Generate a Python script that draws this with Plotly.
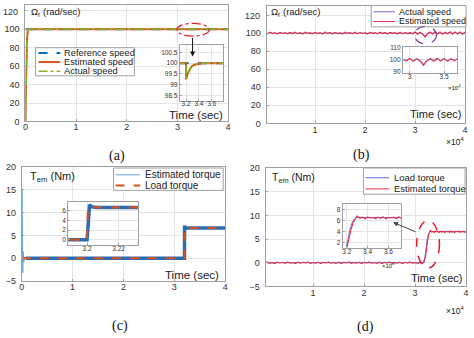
import plotly.graph_objects as go

W, H = 474, 338
def px(x): return x / W
def py(y): return 1 - y / H

# ---------------- data ----------------
# (a) speed response, time in seconds
time_ref_a = [0, 4.0]
speed_ref_a = [100, 100]
time_a = [0, 0.01, 0.03, 0.05, 3.2, 3.2001, 3.22, 3.25, 3.28, 3.32, 3.38, 3.45, 4.0]
speed_est_a = [0, 25, 88, 100, 100, 99.25, 99.48, 99.68, 99.82, 99.92, 99.97, 100, 100]
speed_act_a = [0, 30, 92, 100, 100, 99.32, 99.52, 99.72, 99.85, 99.94, 99.98, 100, 100]
speed_ticks = [0, 20, 40, 60, 80, 100, 120]

# (b) experimental speed, samples
samples_b = list(range(0, 40001, 500))
speed_est_b = [100.6, 99.2, 100.9, 99.5, 100.3, 98.9, 100.8, 99.6, 100.2, 99.1,
               100.7, 99.4, 101.0, 99.3, 100.4, 99.0, 100.9, 99.7, 100.1, 99.2,
               100.8, 99.5, 100.3, 98.8, 101.1, 99.6, 100.5, 99.1, 100.7, 99.4,
               100.2, 99.0, 100.9, 99.6, 100.4, 99.2, 101.0, 99.3, 100.6, 99.5,
               100.1, 98.9, 100.8, 99.7, 100.3, 99.2, 100.9, 99.4, 100.5, 99.1,
               100.7, 99.6, 100.2, 99.0, 101.0, 99.3, 100.6, 99.5, 100.4, 99.2,
               101.2, 98.8, 101.0, 99.1, 95.5, 99.2, 101.1, 98.9, 101.3, 99.0,
               101.2, 98.8, 101.0, 99.2, 101.3, 98.9, 101.1, 99.0, 101.2, 98.8, 100.9]
speed_act_b = [100.3, 99.6, 100.5, 99.7, 100.2, 99.5, 100.4, 99.8, 100.1, 99.6,
               100.4, 99.7, 100.5, 99.6, 100.2, 99.5, 100.4, 99.8, 100.1, 99.6,
               100.5, 99.7, 100.2, 99.4, 100.6, 99.8, 100.3, 99.5, 100.4, 99.7,
               100.1, 99.5, 100.5, 99.8, 100.2, 99.6, 100.5, 99.6, 100.3, 99.7,
               100.1, 99.5, 100.4, 99.8, 100.2, 99.6, 100.5, 99.7, 100.3, 99.5,
               100.4, 99.8, 100.1, 99.5, 100.5, 99.6, 100.3, 99.7, 100.2, 99.6,
               100.6, 99.4, 100.5, 99.5, 96.5, 99.6, 100.6, 99.4, 100.7, 99.5,
               100.6, 99.4, 100.5, 99.6, 100.7, 99.4, 100.6, 99.5, 100.6, 99.4, 100.5]

# (c) torque simulation, time in seconds
time_c = [0, 0.005, 0.012, 0.02, 0.03, 0.04, 0.06, 0.08, 3.2, 3.2008, 3.2015, 3.203, 3.206, 4.0]
torque_est_c = [0, 15.2, 8, -3.2, 1.5, -0.8, 0.3, 0, 0, 3.5, 7.2, 6.8, 6.65, 6.65]
time_load_c = [0, 3.1998, 3.2005, 4.0]
torque_load_c = [0, 0, 6.65, 6.65]

# (d) experimental torque, samples
samples_d = (list(range(0, 32000, 500)) + [32000, 32200, 32400, 32600, 32800]
             + list(range(33000, 40001, 250)))
torque_est_d = [0.1, -0.1, 0.2, -0.15, 0.05, -0.2, 0.15, -0.05, 0.1, -0.15,
                0.2, -0.1, 0.05, -0.2, 0.15, -0.1, 0.1, -0.05, 0.2, -0.15,
                0.05, -0.1, 0.15, -0.2, 0.1, -0.05, 0.2, -0.1, 0.05, -0.15,
                0.15, -0.2, 0.1, -0.05, 0.2, -0.15, 0.05, -0.1, 0.15, -0.2,
                0.1, -0.05, 0.2, -0.1, 0.05, -0.15, 0.15, -0.2, 0.1, -0.05,
                0.2, -0.15, 0.05, -0.1, 0.15, -0.2, 0.1, -0.05, 0.2, -0.1,
                0.05, -0.15, 0.15, -0.1,
                1.0, 2.9, 4.4, 5.6, 6.4,
                6.9, 6.45, 6.65, 6.35, 6.7, 6.5, 6.6, 6.4, 6.65, 6.45,
                6.7, 6.35, 6.6, 6.5, 6.65, 6.4, 6.7, 6.45, 6.6, 6.35,
                6.65, 6.5, 6.7, 6.4, 6.6, 6.45, 6.65, 6.4, 6.55]
samples_load_d = [0, 31800, 31950, 32150, 32350, 32550, 32750, 32950, 40000]
torque_load_d = [0, 0, 1.2, 3.3, 4.8, 5.8, 6.4, 6.6, 6.6]

# ---------------- colours ----------------
C_REF = '#0072BD'
C_EST = '#D95319'
C_ACT = '#8AB22E'
C_BLUE_B = '#7070E0'
C_RED_B = '#E0304A'
C_TE_THIN = '#63A8E0'
C_TE_THICK = '#2B6CB0'

fig = go.Figure()

def line(x, y, xa, ya, color, width=1, dash='solid'):
    fig.add_trace(go.Scatter(x=x, y=y, mode='lines', xaxis=xa, yaxis=ya,
                             line=dict(color=color, width=width, dash=dash),
                             showlegend=False, hoverinfo='skip'))

# (a) main + inset
for xa, ya in [('x', 'y'), ('x2', 'y2')]:
    line(time_ref_a, speed_ref_a, xa, ya, C_REF, 2, 'dash')
    line(time_a, speed_est_a, xa, ya, C_EST, 2)
    line(time_a, speed_act_a, xa, ya, C_ACT, 1.6, 'dashdot')

# (b) main + inset
line(samples_b, speed_act_b, 'x3', 'y3', C_BLUE_B, 1)
line(samples_b, speed_est_b, 'x3', 'y3', C_RED_B, 1.2)
line(samples_b[57:], speed_act_b[57:], 'x4', 'y4', C_BLUE_B, 1)
line(samples_b[57:], speed_est_b[57:], 'x4', 'y4', C_RED_B, 1.1)

# (c) main + inset
for xa, ya in [('x5', 'y5'), ('x6', 'y6')]:
    line(time_c[:8], torque_est_c[:8], xa, ya, C_TE_THIN, 1)
    line(time_c[7:], torque_est_c[7:], xa, ya, C_TE_THICK, 3.5)
    line(time_load_c, torque_load_c, xa, ya, C_EST, 2, 'dash')

# (d) main + inset
for xa, ya in [('x7', 'y7'), ('x8', 'y8')]:
    line(samples_load_d, torque_load_d, xa, ya, C_BLUE_B, 1)
    line(samples_d, torque_est_d, xa, ya, C_RED_B, 1.1)

FONT = 'Liberation Sans'
def axstyle(fs, **kw):
    d = dict(showline=True, linecolor='#a0a0a0', linewidth=1, mirror=True,
             showgrid=True, gridcolor='#e4e4e4', gridwidth=1, zeroline=False,
             ticks='inside', ticklen=2, tickcolor='#a0a0a0',
             ticklabeloverflow='allow',
             tickfont=dict(family=FONT, size=fs, color='#333333'))
    d.update(kw)
    return d

# the top tick label of the speed axes is written as a separate text
speed_ticktext = [str(v) for v in speed_ticks[:-1]] + ['']

layout = dict(
    width=W, height=H, margin=dict(l=0, r=0, t=0, b=0),
    paper_bgcolor='white', plot_bgcolor='white', showlegend=False,
    # (a)
    xaxis=axstyle(9, domain=[px(22.7), px(228)], range=[0, 4], dtick=1, anchor='y', ticklabelstandoff=-3),
    yaxis=axstyle(9, domain=[py(120), py(0.5)], range=[0, 125.8], tickvals=speed_ticks, ticktext=speed_ticktext, anchor='x', ticklabelstandoff=3),
    xaxis2=axstyle(6.5, domain=[px(179), px(223)], range=[3.1, 3.78], tickvals=[3.2, 3.4, 3.6], anchor='y2', ticklabelstandoff=-4),
    yaxis2=axstyle(6.5, domain=[py(99), py(41)], range=[98.23, 100.86], tickvals=[98.5, 99, 99.5, 100, 100.5], anchor='x2'),
    # (b)
    xaxis3=axstyle(9, domain=[px(267), px(468)], range=[330, 40000], tickvals=[10000, 20000, 30000, 40000], ticktext=['1', '2', '3', '4'], anchor='y3', ticklabelstandoff=-2),
    yaxis3=axstyle(9, domain=[py(122), py(1)], range=[0, 130], tickvals=speed_ticks, ticktext=speed_ticktext, anchor='x3', ticklabelstandoff=3),
    xaxis4=axstyle(6.5, domain=[px(405), px(460)], range=[29000, 36900], tickvals=[30000, 35000], ticktext=['3', '3.5'], anchor='y4', ticklabelstandoff=-3),
    yaxis4=axstyle(6.5, domain=[py(70), py(43)], range=[89.4, 110.6], tickvals=[90, 100, 110], anchor='x4'),
    # (c)
    xaxis5=axstyle(9, domain=[px(19), px(225)], range=[0, 4], dtick=1, anchor='y5', ticklabelstandoff=-3),
    yaxis5=axstyle(9, domain=[py(284.5), py(167)], range=[-5, 20], dtick=5, anchor='x5', ticklabelstandoff=3),
    xaxis6=axstyle(6.5, domain=[px(66), px(137)], range=[3.188, 3.2325], tickvals=[3.2, 3.22], anchor='y6', ticklabelstandoff=-2),
    yaxis6=axstyle(6.5, domain=[py(247), py(203)], range=[-1, 7.8], tickvals=[0, 2, 4, 6], anchor='x6'),
    # (d)
    xaxis7=axstyle(9, domain=[px(266), px(469)], range=[700, 40000], tickvals=[10000, 20000, 30000, 40000], ticktext=['1', '2', '3', '4'], anchor='y7', ticklabelstandoff=-2),
    yaxis7=axstyle(9, domain=[py(290), py(168)], range=[-5, 20], dtick=5, anchor='x7', ticklabelstandoff=3),
    xaxis8=axstyle(6.5, domain=[px(344), px(403)], range=[31600, 37200], tickvals=[32000, 34000, 36000], ticktext=['3.2', '3.4', '3.6'], anchor='y8', ticklabelstandoff=-2),
    yaxis8=axstyle(6.5, domain=[py(250), py(205)], range=[1.12, 9.06], tickvals=[2, 4, 6, 8], anchor='x8'),
)
fig.update_layout(**layout)

shapes = []
annots = []

def text(x, y, s, size, anchor='left', family=FONT, color='#222222'):
    annots.append(dict(x=px(x), y=py(y), xref='paper', yref='paper', text=s, showarrow=False,
                       xanchor=anchor, yanchor='middle',
                       font=dict(family=family, size=size, color=color)))

# top speed tick labels
text(17.5, 7.5, str(speed_ticks[-1]), 9, 'right', FONT, '#333333')
text(262, 11, str(speed_ticks[-1]), 9, 'right', FONT, '#333333')

def legend_box(x0, y0, x1, y1, entries, lx0, lx1, tx, fs):
    shapes.append(dict(type='rect', xref='paper', yref='paper', x0=px(x0), x1=px(x1),
                       y0=py(y1), y1=py(y0), line=dict(color='#a0a0a0', width=1),
                       fillcolor='white', layer='above'))
    for (yy, label, color, width, dash) in entries:
        shapes.append(dict(type='line', xref='paper', yref='paper', x0=px(lx0), x1=px(lx1),
                           y0=py(yy), y1=py(yy), line=dict(color=color, width=width, dash=dash),
                           layer='above'))
        text(tx, yy, label, fs)

legend_box(33, 44, 133, 73, [
    (49.5, 'Reference speed', C_REF, 2, 'dash'),
    (58.8, 'Estimated speed', C_EST, 2, 'solid'),
    (68.2, 'Actual speed', C_ACT, 1.6, 'dashdot')], 36, 58, 59.5, 9.3)
legend_box(373, 0.5, 469, 22.5, [
    (7, 'Actual speed', C_BLUE_B, 1, 'solid'),
    (17, 'Estimated speed', C_RED_B, 1, 'solid')], 375, 397, 399, 9)
legend_box(112, 168, 223, 191, [
    (175, 'Estimated torque', C_TE_THIN, 1, 'solid'),
    (186, 'Load torque', C_EST, 2, 'dash')], 114, 139, 141.5, 10)
legend_box(365, 168, 468, 195, [
    (178, 'Load torque', C_BLUE_B, 1, 'solid'),
    (189.5, 'Estimated torque', C_RED_B, 1, 'solid')], 367, 391, 393.5, 9.5)

# ellipses
def ellipse(x0, y0, x1, y1, color, dash, width=1.2):
    shapes.append(dict(type='circle', xref='paper', yref='paper', x0=px(x0), x1=px(x1),
                       y0=py(y1), y1=py(y0), line=dict(color=color, width=width, dash=dash),
                       layer='above'))
ellipse(176, 19, 209, 32, '#E0202A', 'dashdot')
ellipse(417, 22, 439, 40, '#7B3FA0', 'dash')
ellipse(419, 222, 442, 271, '#E0202A', 'dash', 1.5)

# arrows
annots.append(dict(x=px(192), y=py(53), xref='paper', yref='paper', ax=0, ay=-20, text='',
                   showarrow=True, arrowhead=2, arrowsize=1, arrowwidth=1, arrowcolor='#111111'))
annots.append(dict(x=px(395), y=py(224), xref='paper', yref='paper', ax=24, ay=10, text='',
                   showarrow=True, arrowhead=2, arrowsize=1, arrowwidth=1, arrowcolor='#444444'))

# axis labels
text(26, 7.5, 'Ω<sub>r</sub> (rad/sec)', 9.5)
text(269, 7.5, 'Ω<sub>r</sub> (rad/sec)', 9.5)
text(25, 177, 'T<sub>em</sub> (Nm)', 11)
text(270, 178, 'T<sub>em</sub> (Nm)', 10.5)
text(225, 113, 'Time (sec)', 11.5, 'right')
text(467, 112, 'Time (sec)', 11, 'right')
text(221, 278, 'Time (sec)', 11.5, 'right')
text(468, 281, 'Time (sec)', 11, 'right')

# exponent labels
text(469, 141, '×10<sup>4</sup>', 8.5, 'right')
text(469, 315, '×10<sup>4</sup>', 8.5, 'right')
text(466, 85, '×10<sup>4</sup>', 6, 'right')
text(399, 268, '×10<sup>4</sup>', 6, 'right')

# captions
SERIF = 'Liberation Serif'
text(115, 156, '(a)', 14, 'center', SERIF, '#111111')
text(363, 155, '(b)', 14, 'center', SERIF, '#111111')
text(118, 331, '(c)', 14, 'center', SERIF, '#111111')
text(367, 332, '(d)', 14, 'center', SERIF, '#111111')

fig.update_layout(shapes=shapes, annotations=annots)
fig.write_html('out.html')
